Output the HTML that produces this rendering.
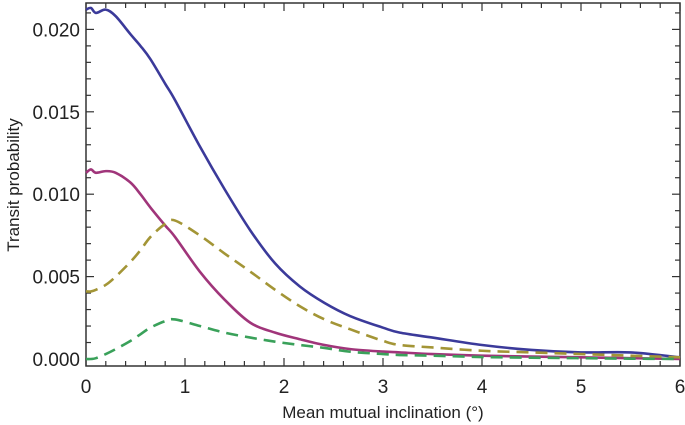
<!DOCTYPE html>
<html><head><meta charset="utf-8"><style>
body{margin:0;background:#fff;}
svg{display:block;font-family:"Liberation Sans",sans-serif;}
</style></head><body>
<svg id="chart" width="685" height="425"></svg>
<script>
const xs=[0,0.05,0.1,0.2,0.3,0.45,0.55,0.65,0.8,0.9,1.15,1.4,1.66,1.91,2.16,2.41,2.67,3.0,3.17,3.5,4,4.5,5,5.5,6];
const blueVals=[0.0212,0.0213,0.0210,0.0212,0.0208,0.0197,0.0190,0.0182,0.0167,0.0157,0.0129,0.0103,0.0078,0.0058,0.0044,0.0034,0.0026,0.0019,0.0016,0.0013,0.00085,0.00055,0.0004,0.0004,0.0001];
const magentaVals=[0.0113,0.0115,0.0113,0.0114,0.0113,0.0107,0.0100,0.0092,0.0081,0.0074,0.0053,0.0036,0.0022,0.0016,0.0012,0.00085,0.0006,0.00045,0.0004,0.0003,0.0002,0.00015,0.0001,0.00005,0.0];
const oliveVals=[0.0041,0.0041,0.0042,0.0045,0.0050,0.0059,0.0066,0.0074,0.0082,0.0084,0.0075,0.0064,0.0053,0.0042,0.0032,0.0024,0.0018,0.0011,0.00085,0.0007,0.0005,0.0004,0.0003,0.0002,0.0001];
const greenVals=[0.0,0.0,0.00005,0.0003,0.0006,0.0011,0.0015,0.0019,0.0023,0.0024,0.0020,0.0016,0.0013,0.00105,0.00085,0.00067,0.00044,0.0003,0.00024,0.0002,0.00012,0.00008,0.00005,0.00002,0.0];
const xTicks=[0,1,2,3,4,5,6];
const yTicks=[0,0.005,0.01,0.015,0.02];
const yTickLabels=["0.000","0.005","0.010","0.015","0.020"];

const L=86,R=680,T=3,B=366;
const xs_=v=>L+v*(R-L)/6;
const ys_=v=>359-v*16480;
const svg=document.getElementById('chart');
const NS='http://www.w3.org/2000/svg';
function mk(tag,attrs,parent){const e=document.createElementNS(NS,tag);for(const k in attrs)e.setAttribute(k,attrs[k]);(parent||svg).appendChild(e);return e;}

const frame=mk('rect',{x:L,y:T,width:R-L,height:B-T,fill:'none',stroke:'#333','stroke-width':1.5});



for(let i=0;i<=30;i++){const v=i*0.2;const px=xs_(v);const len=(i%5===0)?8:5;
 const t1=mk('line',{x1:px,x2:px,y1:B,y2:B-len,stroke:'#333','stroke-width':1.2});
 
 
 const t2=mk('line',{x1:px,x2:px,y1:T,y2:T+len,stroke:'#333','stroke-width':1.2});
 
 }
for(let i=0;i<=21;i++){const v=i*0.001;const py=ys_(v);if(py<T)continue;const len=(i%5===0)?8:5;
 const t1=mk('line',{x1:L,x2:L+len,y1:py,y2:py,stroke:'#333','stroke-width':1.2});
 
 
 const t2=mk('line',{x1:R,x2:R-len,y1:py,y2:py,stroke:'#333','stroke-width':1.2});
 
 }
xTicks.forEach(v=>{const t=mk('text',{x:xs_(v),y:393,'text-anchor':'middle','font-size':19,fill:'#222'});t.textContent=v;
 
 });
yTicks.forEach((v,i)=>{const t=mk('text',{x:80,y:ys_(v)+7,'text-anchor':'end','font-size':19,fill:'#222'});t.textContent=yTickLabels[i];
 
 });
const xt=mk('text',{x:383,y:418,'text-anchor':'middle','font-size':17,fill:'#222'});xt.textContent='Mean mutual inclination (°)';


const yt=mk('text',{x:0,y:0,'text-anchor':'middle','font-size':17,fill:'#222',transform:'translate(19,185) rotate(-90)'});yt.textContent='Transit probability';



function pathFor(vals){const p=xs.map((x,i)=>[xs_(x),ys_(vals[i])]);let d='M'+p[0][0]+','+p[0][1];
 for(let i=0;i<p.length-1;i++){const p0=p[Math.max(0,i-1)],p1=p[i],p2=p[i+1],p3=p[Math.min(p.length-1,i+2)];
  const c1=[p1[0]+(p2[0]-p0[0])/6,p1[1]+(p2[1]-p0[1])/6],c2=[p2[0]-(p3[0]-p1[0])/6,p2[1]-(p3[1]-p1[1])/6];
  d+=' C'+c1[0]+','+c1[1]+' '+c2[0]+','+c2[1]+' '+p2[0]+','+p2[1];}
 return d;}
const series=[[blueVals,'#3b3a9a',null,'series-blue'],[magentaVals,'#a0357a',null,'series-magenta'],[oliveVals,'#a39536','12 7','series-olive-dashed'],[greenVals,'#3aa15a','12 7','series-green-dashed']];
series.forEach(s=>{const a={d:pathFor(s[0]),fill:'none',stroke:s[1],'stroke-width':2.6,'stroke-linejoin':'round'};if(s[2])a['stroke-dasharray']=s[2];
 const p=mk('path',a);
 
 });
</script>
</body></html>
